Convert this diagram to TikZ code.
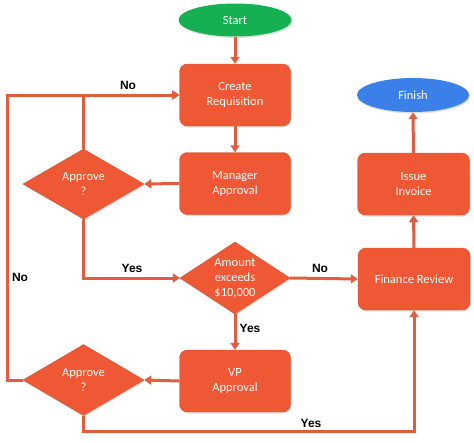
\documentclass[tikz,border=0pt]{standalone}
\usepackage{fontspec}
\setmainfont{Carlito}
\newfontfamily\lblfont{Liberation Sans}
\usetikzlibrary{shapes.geometric,arrows.meta,shadows}
\definecolor{oran}{RGB}{239,88,52}
\definecolor{oranline}{RGB}{226,92,62}
\definecolor{oranedge}{RGB}{214,78,46}
\definecolor{grn}{RGB}{20,176,82}
\definecolor{blu}{RGB}{58,128,232}
\tikzset{
  shad/.style={drop shadow={opacity=0.25,shadow xshift=1pt,shadow yshift=-1.5pt}},
  procbox/.style={draw=oranedge,fill=oran,rounded corners=8pt,minimum width=111pt,minimum height=62pt,
    text=white,align=center,font=\fontsize{12.5}{15}\selectfont,inner sep=0pt,shad},
  dia/.style={diamond,draw=oranedge,fill=oran,inner sep=0pt,shad},
  txt/.style={text=white,align=center,font=\fontsize{12.5}{15}\selectfont,inner sep=0pt},
  term/.style={ellipse,draw=none,text=white,font=\fontsize{12.5}{15}\selectfont,inner sep=0pt,shad},
  conn/.style={draw=oranline,line width=3pt,-{Triangle[width=9pt,length=7pt]}},
  lbl/.style={font=\lblfont\bfseries\fontsize{12}{14}\selectfont,text=black,inner sep=0pt},
}
\begin{document}
\begin{tikzpicture}[x=1pt,y=-1pt]
\useasboundingbox (0,0) rectangle (474,442);
% terminals
\node[term,fill=grn,minimum width=113pt,minimum height=33pt] (start) at (235,20) {Start};
\node[term,fill=blu,minimum width=112pt,minimum height=34pt] (finish) at (413,95) {Finish};
% process boxes
\node[procbox] (req) at (235,95) {Create\\Requisition};
\node[procbox] (mgr) at (235,183.5) {Manager\\Approval};
\node[procbox] (vp) at (235,381) {VP\\Approval};
\node[procbox,minimum width=112pt] (fin) at (414,279) {Finance Review};
\node[procbox,minimum width=112pt] (inv) at (413.5,184) {Issue\\Invoice};
% decisions
\node[dia,minimum width=121pt,minimum height=70pt] (ap1) at (83.5,184) {};
\node[txt] (ap1t) at (ap1) {Approve\\?};
\node[dia,minimum width=110pt,minimum height=72pt] (amt) at (235,278) {};
\node[txt] (amtt) at (amt) {Amount\\exceeds\\\$10,000};
\node[dia,minimum width=121pt,minimum height=71pt] (ap2) at (83.5,380) {};
\node[txt] (ap2t) at (ap2) {Approve\\?};
% helper coordinates
\coordinate (lft) at (7,380);
\coordinate (bot) at (83.5,431);
% connectors
\draw[conn] (start.south) -- (req.north);
\draw[conn] (req.south) -- (mgr.north);
\draw[conn] (mgr.west) -- (ap1.east);
\draw[conn] (ap1.north) |- (req.west);
\draw[conn] (ap1.south) |- (amt.west);
\draw[conn] (amt.east) -- (fin.west);
\draw[conn] (amt.south) -- (vp.north);
\draw[conn] (vp.west) -- (ap2.east);
\draw[conn] (ap2.west) -- (lft) |- (req.west);
\draw[conn] (ap2.south) -- (bot) -| (fin.south);
\draw[conn] (fin.north) -- (inv.south);
\draw[conn] (inv.north) -- (finish.south);
% labels
\node[lbl] (l1) at (128,85) {No};
\node[lbl] (l2) at (20,277) {No};
\node[lbl] (l3) at (132,268) {Yes};
\node[lbl] (l4) at (320,268) {No};
\node[lbl] (l5) at (250,328) {Yes};
\node[lbl] (l6) at (311,423) {Yes};
\end{tikzpicture}
\end{document}
